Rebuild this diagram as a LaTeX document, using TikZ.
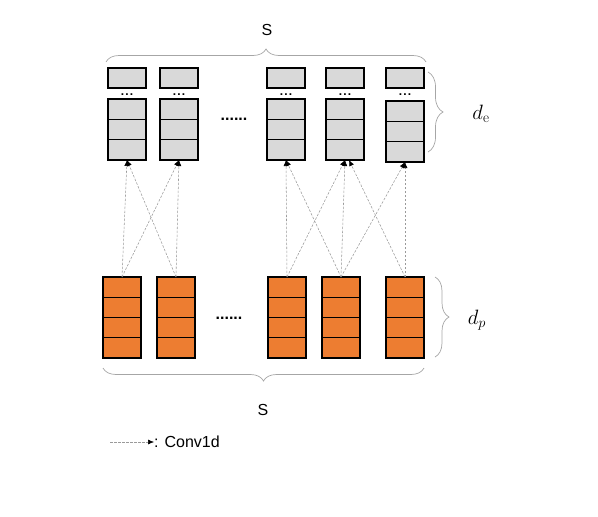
\documentclass[tikz,border=0pt]{standalone}
\usepackage{fontspec}
\setmainfont{Liberation Sans}
\setmathrm{Latin Modern Roman}
\usetikzlibrary{arrows.meta,calc,decorations.pathreplacing}
\definecolor{cellgray}{HTML}{D9D9D9}
\definecolor{cellorange}{HTML}{ED7D31}
\definecolor{lingray}{HTML}{9A9A9A}
\definecolor{brgray}{HTML}{A6A6A6}
\begin{document}
\begin{tikzpicture}[x=1pt,y=-1pt,
  cell/.style={draw=black,line width=1.2pt,inner sep=0pt,outer sep=0pt,anchor=north west,minimum width=38pt},
  gcell/.style={cell,fill=cellgray},
  ocell/.style={cell,fill=cellorange},
  sep/.style={draw=black,line width=1.2pt},
  conv/.style={draw=lingray,line width=0.55pt,dash pattern=on 2.5pt off 1.5pt,-{Latex[length=6pt,width=5pt,color=black]}},
  brc/.style={draw=brgray,line width=0.7pt,decorate,decoration={brace,amplitude=#1}},
  lbl/.style={font=\fontsize{16}{19}\selectfont},
  mlbl/.style={font=\fontsize{21}{24}\selectfont}]
\useasboundingbox (0,0) rectangle (598,517);

% top (gray) columns
\foreach \i/\x/\y in {1/108/99,2/160/99,3/267/99,4/326/99,5/386/101}{
  \node[gcell,minimum height=20pt] (s\i) at (\x,68) {};
  \node[anchor=base,inner sep=0pt,font=\fontsize{12}{14}\bfseries] (d\i) at (\x+19,95) {.\kern1.2pt.\kern1.2pt.};
  \node[gcell,minimum height=61pt] (t\i) at (\x,\y) {};
  \foreach \f in {1,2}{
    \draw[sep] ($(t\i.north west)!\f/3!(t\i.south west)$) -- ($(t\i.north east)!\f/3!(t\i.south east)$);
  }
}

% bottom (orange) columns
\foreach \i/\x in {1/103,2/157,3/268,4/322,5/386}{
  \node[ocell,minimum height=81pt] (b\i) at (\x,277) {};
  \foreach \f in {1,2,3}{
    \draw[sep] ($(b\i.north west)!\f/4!(b\i.south west)$) -- ($(b\i.north east)!\f/4!(b\i.south east)$);
  }
}

% ellipses between groups
\node[lbl,anchor=base,inner sep=0pt] (e1) at (234,120) {\bfseries ......};
\node[lbl,anchor=base,inner sep=0pt] (e2) at (229,319) {\bfseries ......};

% convolution arrows
\draw[conv] (b1.north) -- (t1.south);
\draw[conv] (b1.north) -- (t2.south);
\draw[conv] (b2.north) -- (t1.south);
\draw[conv] (b2.north) -- (t2.south);
\draw[conv] (b3.north) -- (t3.south);
\draw[conv] (b3.north) -- (t4.south);
\draw[conv] (b4.north) -- (t3.south);
\draw[conv] (b4.north) -- (t4.south);
\draw[conv] (b4.north) -- (t5.south);
\draw[conv] (b5.north) -- ($(t4.south)+(4,0)$);
\draw[conv] (b5.north) -- (t5.south);

% braces
\coordinate (tbl) at (106,62);
\coordinate (tbr) at (426,62);
\draw[brc=13pt] (tbl) -- (tbr);
\node[lbl] (stop) at (267,30) {S};
\coordinate (bbl) at (103,368);
\coordinate (bbr) at (424,368);
\draw[brc=13pt] (bbr) -- (bbl);
\node[lbl] (sbot) at (263,410) {S};
\coordinate (rt1) at (428,72);
\coordinate (rt2) at (428,152);
\draw[brc=15pt] (rt1) -- (rt2);
\node[mlbl] (de) at (481,114) {$d_{\mathrm{e}}$};
\coordinate (rb1) at (435,277);
\coordinate (rb2) at (435,357);
\draw[brc=14pt] (rb1) -- (rb2);
\node[mlbl] (dp) at (477,320) {$d_p$};

% legend
\coordinate (la) at (110,442);
\node[lbl,anchor=west,inner sep=0pt] (lt) at (154,442) {: Conv1d};
\draw[conv] (la) -- (lt.west);
\end{tikzpicture}
\end{document}
